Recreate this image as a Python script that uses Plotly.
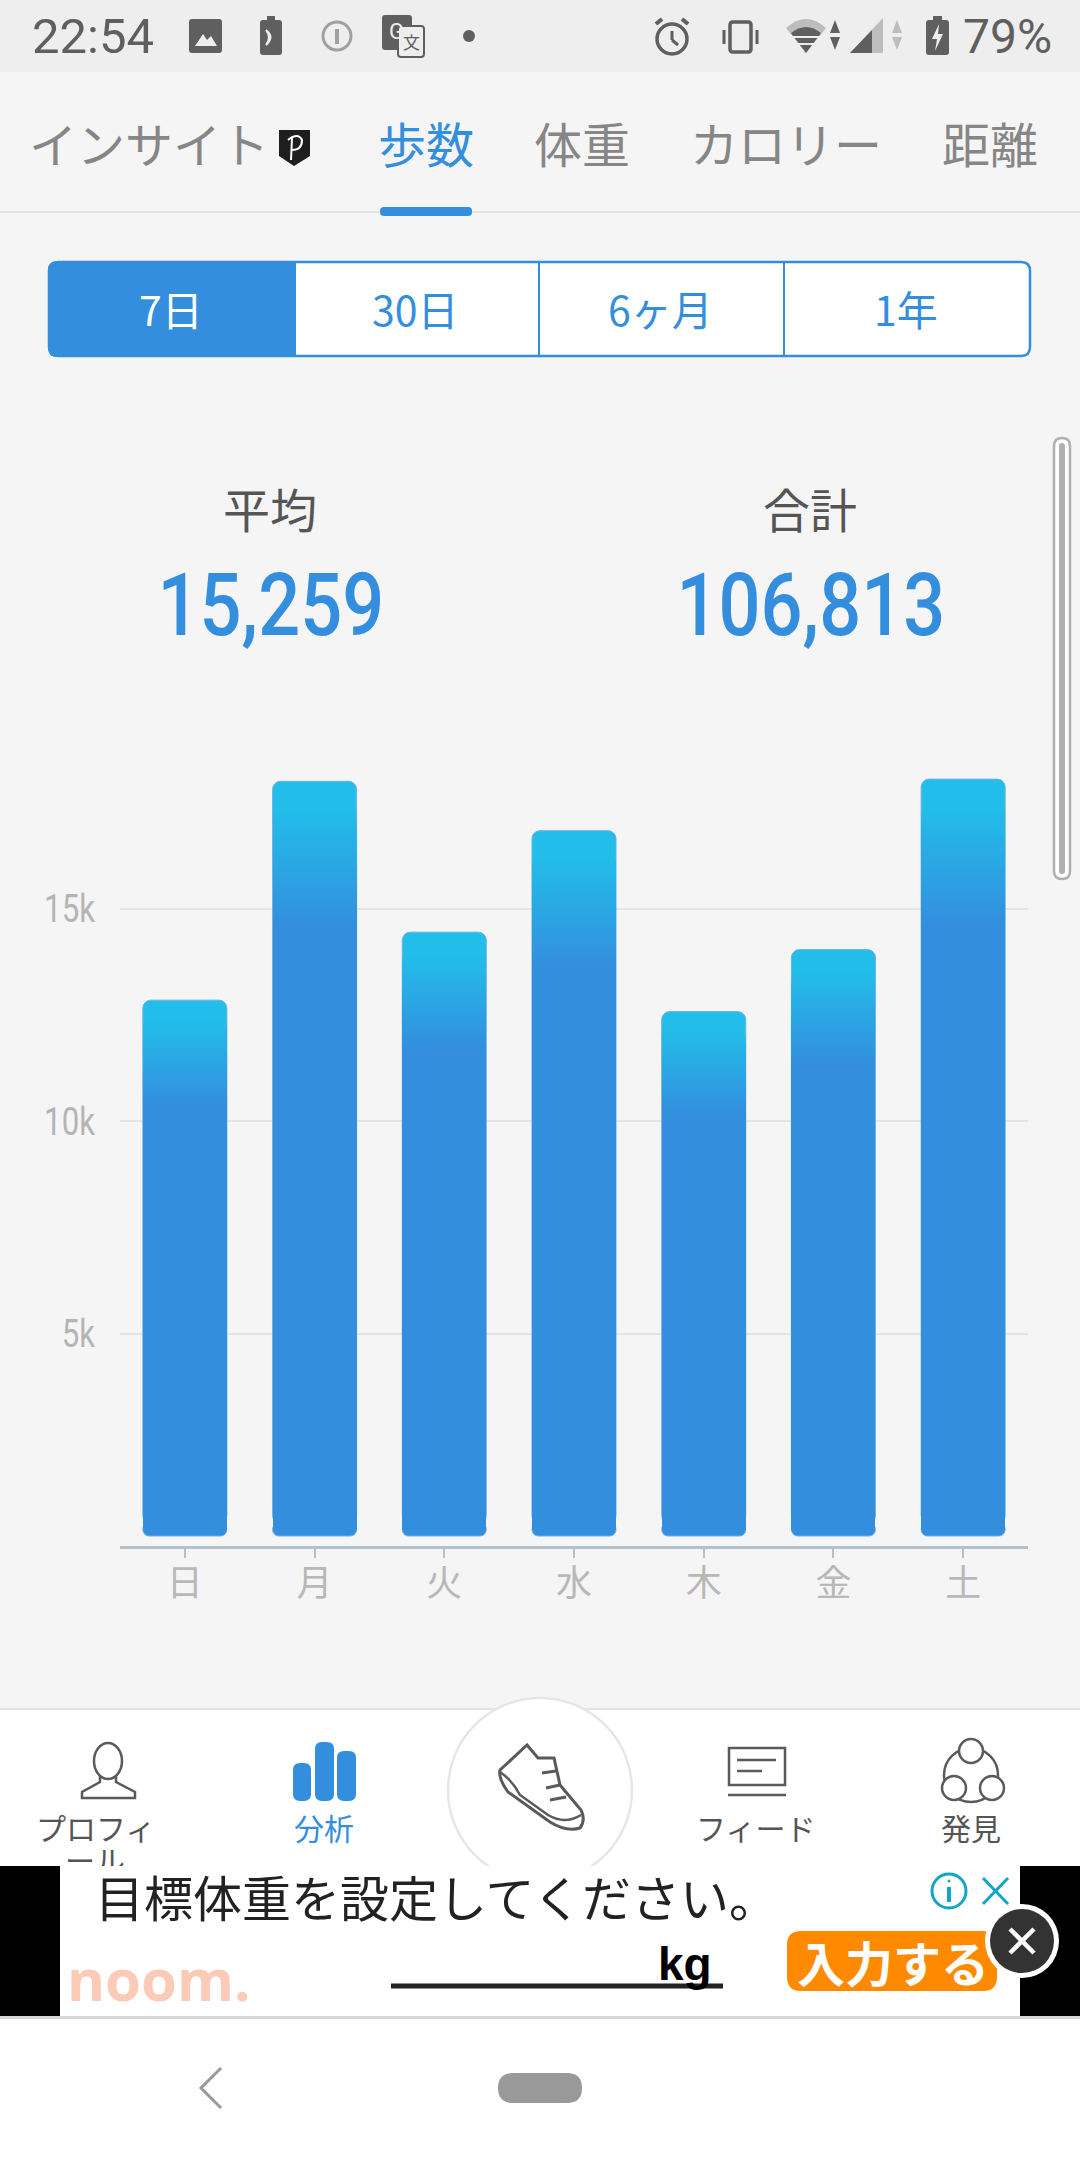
import plotly.graph_objects as go

# data
days = ["日", "月", "火", "水", "木", "金", "土"]
steps = [12850, 18000, 14450, 16840, 12580, 14040, 18053]
y_ticks = [5000, 10000, 15000]
y_labels = ["5k", "10k", "15k"]
tabs = ["インサイト", "歩数", "体重", "カロリー", "距離"]
ranges = ["7日", "30日", "6ヶ月", "1年"]
nav_items = ["分析", "フィード", "発見"]
average_text = "15,259"
total_text = "106,813"

BLUE = "#348EDE"
CYAN = "#22BDE9"
EDGE = "#6FB1EA"
JP = "Noto Sans CJK JP"
NARROW = "Roboto"

shapes = []
notes = []


def rect(x0, y0, x1, y1, fill, line=None, width=0, layer="above"):
    shapes.append(dict(type="rect", xref="x2", yref="y2", x0=x0, y0=y0, x1=x1, y1=y1,
                       fillcolor=fill, line=dict(color=line or fill, width=width), layer=layer))


def rrect_path(x0, y0, x1, y1, r):
    return (f"M {x0+r} {y0} L {x1-r} {y0} Q {x1} {y0} {x1} {y0+r} L {x1} {y1-r} Q {x1} {y1} {x1-r} {y1} "
            f"L {x0+r} {y1} Q {x0} {y1} {x0} {y1-r} L {x0} {y0+r} Q {x0} {y0} {x0+r} {y0} Z")


def path(d, fill="rgba(0,0,0,0)", line="rgba(0,0,0,0)", width=0):
    shapes.append(dict(type="path", xref="x2", yref="y2", path=d, fillcolor=fill,
                       line=dict(color=line, width=width), layer="above"))


def rrect(x0, y0, x1, y1, r, fill, line="rgba(0,0,0,0)", width=0):
    path(rrect_path(x0, y0, x1, y1, r), fill, line, width)


def circle(cx, cy, rx, fill="rgba(0,0,0,0)", line="rgba(0,0,0,0)", width=0, ry=None):
    ry = ry or rx
    shapes.append(dict(type="circle", xref="x2", yref="y2", x0=cx-rx, y0=cy-ry, x1=cx+rx, y1=cy+ry,
                       fillcolor=fill, line=dict(color=line, width=width), layer="above"))


def seg(x0, y0, x1, y1, color, width):
    shapes.append(dict(type="line", xref="x2", yref="y2", x0=x0, y0=y0, x1=x1, y1=y1,
                       line=dict(color=color, width=width), layer="above"))


def label(x, y, text, size, color, font=JP, anchor="center", weight=None):
    notes.append(dict(xref="x2", yref="y2", x=x, y=y, text=text, showarrow=False, xanchor=anchor,
                      yanchor="middle", font=dict(size=size, color=color, family=font, weight=weight)))


fig = go.Figure()

# bars: rounded foot, then cyan bar with rounded top, then blue layers fading over it
bar_base = 235
foot = 300
bar_width = 0.648
fig.add_trace(go.Bar(x=days, y=[-foot] * 7, base=[bar_base + foot] * 7, width=bar_width,
                     marker=dict(color=BLUE, cornerradius=8, line=dict(color=EDGE, width=1))))
fig.add_trace(go.Bar(x=days, y=[v - bar_base - foot for v in steps], base=[bar_base + foot] * 7, width=bar_width,
                     marker=dict(color=CYAN, cornerradius=8, line=dict(color=EDGE, width=1))))
layer_base = bar_base + foot / 2
n_layers = 40
for k in range(n_layers):
    t = (k + 1) / n_layers
    frac = 0.96 - 0.15 * k / (n_layers - 1)
    r = round(0x22 + (0x34 - 0x22) * t)
    g = round(0xBD + (0x8E - 0xBD) * t)
    b = round(0xE9 + (0xDE - 0xE9) * t)
    fig.add_trace(go.Bar(x=days, y=[v * frac - layer_base for v in steps], base=[layer_base] * 7,
                         width=bar_width - 0.007, marker=dict(color=f"rgb({r},{g},{b})", line=dict(width=0))))

# second line of the profile label, the ad covers most of it
fig.add_trace(go.Scatter(x=[95], y=[1864], text=["ール"], mode="text", xaxis="x2", yaxis="y2",
                         cliponaxis=False, textfont=dict(size=30, color="#555555", family=JP)))

# status bar
rect(0, 0, 1080, 72, "#EEEEEE")
label(30, 36, "22:54", 49, "#5F5F5F", "Roboto", "left")
label(961, 36, "79%", 48, "#5F5F5F", "Roboto", "left")
rrect(189, 19, 222, 53, 3, "#5F5F5F")
path("M 195 46 L 203 34 L 207 40 L 211 36 L 217 46 Z", "#EEEEEE")
rrect(260, 20, 282, 55, 3, "#5F5F5F")
rect(267, 16, 275, 20, "#5F5F5F")
path("M 266 30 Q 275 37 266 45 Q 272 37 266 30 Z", "#EEEEEE", "#EEEEEE", 2)
circle(337, 36, 14, line="#A0A0A0", width=3)
seg(337, 29, 337, 44, "#A0A0A0", 4)
rrect(382, 15, 412, 50, 3, "#5F5F5F")
rrect(398, 26, 424, 57, 3, "#EEEEEE", "#5F5F5F", 2)
label(396, 31, "G", 22, "#EEEEEE", "Roboto")
label(411, 41, "文", 17, "#5F5F5F")
circle(469, 36, 6, "#5F5F5F")
circle(672, 39, 15, line="#5F5F5F", width=3.5)
seg(672, 31, 672, 40, "#5F5F5F", 3)
seg(672, 40, 678, 45, "#5F5F5F", 3)
seg(656, 24, 662, 19, "#5F5F5F", 4)
seg(682, 19, 688, 24, "#5F5F5F", 4)
rrect(730, 22, 751, 52, 3, "rgba(0,0,0,0)", "#5F5F5F", 3.5)
for vx, vy0, vy1 in [(724, 30, 44), (757, 30, 44)]:
    seg(vx, vy0, vx, vy1, "#5F5F5F", 3)
path("M 786 28 Q 806 10 826 28 L 806 53 Z", "#BDBDBD")
path("M 791 33 Q 806 21 821 33 L 806 53 Z", "#5F5F5F")
seg(793, 37, 819, 37, "#EEEEEE", 2)
seg(798, 44, 814, 44, "#EEEEEE", 2)
path("M 830 33 L 835 20 L 840 33 Z", "#5F5F5F")
path("M 830 37 L 835 50 L 840 37 Z", "#5F5F5F")
path("M 850 53 L 883 18 L 883 53 Z", "#BDBDBD")
path("M 850 53 L 872 30 L 872 53 Z", "#5F5F5F")
path("M 892 33 L 897 20 L 902 33 Z", "#BDBDBD")
path("M 892 37 L 897 50 L 902 37 Z", "#BDBDBD")
rrect(926, 20, 949, 55, 3, "#5F5F5F")
rect(933, 16, 942, 20, "#5F5F5F")
path("M 939 24 L 932 39 L 937 39 L 935 51 L 943 34 L 938 34 Z", "#EEEEEE")

# tab row
for name, cx, color in zip(tabs, [149, 426, 582, 786, 990], ["#868686", BLUE, "#868686", "#868686", "#868686"]):
    label(cx, 142, name, 48, color)
path("M 279 130 L 310 130 L 310 156 L 294 166 L 279 156 Z", "#1E1E1E")
path("M 288 140 Q 298 132 302 140 Q 302 150 292 150 M 292 138 L 291 160", line="#FFFFFF", width=2)
seg(0, 212, 1080, 212, "#E2E2E2", 2)
rrect(380, 207, 472, 216, 4, BLUE)

# range selector
rrect(49, 262, 1030, 356, 9, "#FFFFFF", BLUE, 2.5)
path("M 296 261 L 58 261 Q 48 261 48 271 L 48 347 Q 48 357 58 357 L 296 357 Z", BLUE)
seg(539, 262, 539, 356, BLUE, 2)
seg(784, 262, 784, 356, BLUE, 2)
for name, cx, color in zip(ranges, [171, 415, 660, 906], ["#FFFFFF", BLUE, BLUE, BLUE]):
    label(cx, 308, name, 41, color)

# summary numbers
label(270, 507, "平均", 47, "#555555")
label(810, 507, "合計", 47, "#555555")
label(271, 604, average_text, 88, BLUE, NARROW, weight=500)
label(811, 604, total_text, 88, BLUE, NARROW, weight=500)

# scrollbar
rrect(1054, 438, 1070, 879, 8, "#FFFFFF", "#B0B0B0", 2.5)
rrect(1059, 443, 1065, 874, 3, "#B0B0B0")

# bottom nav
rect(0, 1709, 1080, 2160, "#FFFFFF", layer="below")
seg(0, 1709, 1080, 1709, "#E2E2E2", 2)
circle(540, 1790, 92, "#FFFFFF", "#E6E6E6", 2.5)
grey = "#5A5A5A"
circle(108, 1761, 14, line=grey, width=2.5, ry=18)
path("M 100 1776 L 100 1782 L 82 1792 L 82 1798 L 135 1798 L 135 1792 L 116 1782 L 116 1776", line=grey, width=2.5)
rrect(293, 1763, 311, 1801, 7, BLUE)
rrect(315, 1742, 334, 1801, 7, BLUE)
rrect(337, 1751, 356, 1801, 7, BLUE)
path("M 527 1745 L 500 1770 Q 498 1778 508 1792 L 550 1822 Q 566 1832 580 1828 Q 586 1820 581 1810 "
     "L 560 1785 L 554 1758 L 538 1758 Z", line=grey, width=3)
path("M 500 1772 Q 512 1780 520 1795 L 548 1815 Q 565 1825 581 1815", line=grey, width=2.5)
seg(542, 1773, 556, 1771, grey, 3)
seg(546, 1788, 560, 1785, grey, 3)
seg(550, 1800, 566, 1797, grey, 3)
rect(729, 1748, 785, 1785, "rgba(0,0,0,0)", grey, 2.5)
seg(737, 1760, 776, 1760, grey, 2.5)
seg(737, 1771, 762, 1771, grey, 2.5)
seg(728, 1795, 786, 1795, grey, 2.5)
circle(971, 1775, 27, line=grey, width=2.5)
circle(971, 1751, 12, "#FFFFFF", grey, 2.5)
circle(954, 1788, 12, "#FFFFFF", grey, 2.5)
circle(992, 1788, 12, "#FFFFFF", grey, 2.5)
label(95, 1827, "プロフィ", 30, "#555555")
for name, cx, color in zip(nav_items, [324, 755, 971], [BLUE, "#555555", "#555555"]):
    label(cx, 1827, name, 30, color)

# ad banner
rect(0, 1866, 60, 2016, "#000000")
rect(1020, 1866, 1080, 2016, "#000000")
rect(60, 1866, 1020, 2016, "#FFFFFF")
rect(0, 2016, 1080, 2019, "#D8D8D8")
label(93, 1895, "目標体重を設定してください。", 49, "#222222", JP, "left")
circle(949, 1891, 17, line="#12A5C9", width=3)
seg(949, 1887, 949, 1902, "#12A5C9", 4)
circle(949, 1881, 1.5, "#12A5C9")
seg(983, 1878, 1008, 1904, "#12A5C9", 3)
seg(1008, 1878, 983, 1904, "#12A5C9", 3)
label(65, 1978, "<b>noom.</b>", 58, "#FBCBB8", "Open Sans", "left")
seg(391, 1986, 723, 1986, "#222222", 5)
label(685, 1964, "<b>kg</b>", 46, "#000000", "Liberation Sans")
rrect(787, 1931, 997, 1991, 14, "#FF8A00")
label(893, 1961, "<b>入力する</b>", 48, "#FFFFFF")
circle(1022, 1941, 37, "#FFFFFF")
circle(1022, 1941, 32, "#333333")
seg(1010, 1929, 1034, 1953, "#FFFFFF", 4.5)
seg(1034, 1929, 1010, 1953, "#FFFFFF", 4.5)

# android buttons
path("M 221 2068 L 201 2088 L 221 2108", line="#999999", width=3)
rrect(498, 2073, 582, 2103, 15, "#999999")

fig.update_layout(
    width=1080, height=2160, margin=dict(l=0, r=0, t=0, b=0, pad=0),
    paper_bgcolor="#F5F5F5", plot_bgcolor="rgba(0,0,0,0)",
    barmode="overlay", showlegend=False, hovermode=False,
    shapes=shapes, annotations=notes,
    xaxis=dict(type="category", categoryorder="array", categoryarray=days, range=[-0.5, 6.5],
               domain=[120 / 1080, 1028 / 1080], anchor="y", showgrid=False, zeroline=False,
               showline=True, linecolor="#B3C0C7", linewidth=3,
               ticks="outside", ticklen=9, tickwidth=2, tickcolor="#B3C0C7", ticklabelstandoff=-5,
               tickfont=dict(size=36, color="#B8B8B8", family=JP)),
    yaxis=dict(range=[0, 18762], domain=[614 / 2160, 1411 / 2160], anchor="x", zeroline=False,
               tickvals=y_ticks, ticktext=y_labels, showgrid=True, gridcolor="#E4E4E4", gridwidth=2,
               ticks="", ticklabelstandoff=24, showline=False,
               tickfont=dict(size=39, color="#B4B4B4", family=NARROW)),
    xaxis2=dict(range=[0, 1080], domain=[0, 1], anchor="y2", visible=False, fixedrange=True),
    yaxis2=dict(range=[2160, 0], domain=[0, 1], anchor="x2", visible=False, fixedrange=True),
)

# no condensed font installed, so squeeze these labels to the width they have in the app
squeeze = """
document.body.style.margin = '0';
var narrow = {big: 0.84, small: 0.8};
document.querySelectorAll('text').forEach(function (t) {
    var f = %s.indexOf(t.textContent) >= 0 ? narrow.big : %s.indexOf(t.textContent) >= 0 ? narrow.small : 0;
    if (f) {
        t.setAttribute('lengthAdjust', 'spacingAndGlyphs');
        t.setAttribute('textLength', t.getComputedTextLength() * f);
    }
});
""" % (str([average_text, total_text]), str(y_labels))

fig.write_html("out.html", config=dict(displayModeBar=False), post_script=squeeze)
